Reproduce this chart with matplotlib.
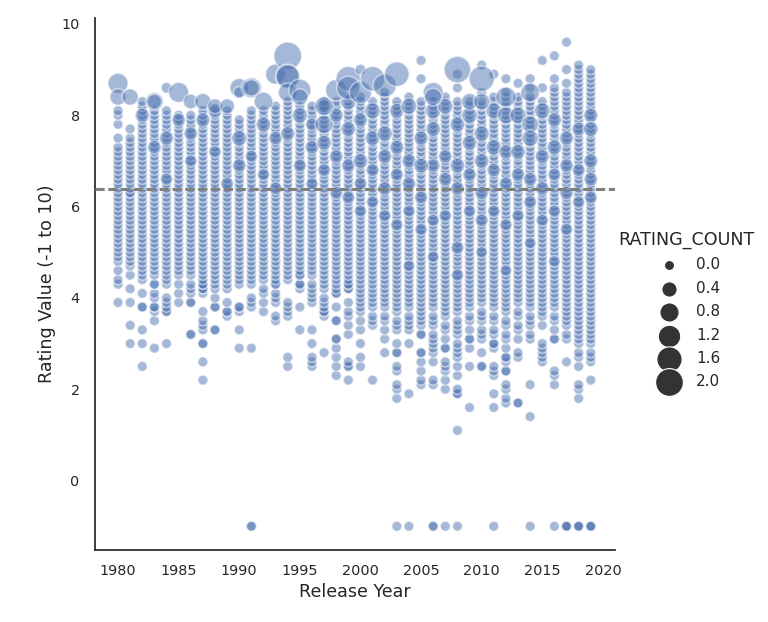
#!/usr/bin/env python3
"""Scatter of film ratings by release year, sized by rating count."""

import matplotlib
matplotlib.use("Agg")
import matplotlib.pyplot as plt

BLUE = "#4c72b0"
INK = "#262626"

release_years = list(range(1980, 2020))

# Ratings of ordinary titles, one row per release year
year_ratings = [
    [3.9, 4.3, 4.4, 4.6, 4.8, 4.9, 5.0, 5.1, 5.2, 5.3, 5.4, 5.5, 5.6, 5.7, 5.8, 5.9, 6.0, 6.1, 6.2, 6.3, 6.4, 6.5, 6.6, 6.7, 6.8, 6.9, 7.0, 7.1, 7.2, 7.3, 7.5, 7.8, 8.0, 8.1],
    [3.0, 3.4, 3.9, 4.2, 4.5, 4.7, 4.8, 4.9, 5.0, 5.1, 5.2, 5.3, 5.4, 5.5, 5.6, 5.7, 5.8, 5.9, 6.0, 6.1, 6.2, 6.3, 6.3, 6.4, 6.5, 6.6, 6.7, 6.8, 6.9, 7.0, 7.1, 7.2, 7.3, 7.4, 7.5, 7.7],
    [2.5, 3.0, 3.3, 3.8, 3.8, 4.1, 4.4, 4.5, 4.6, 4.7, 4.8, 4.9, 5.0, 5.1, 5.2, 5.3, 5.4, 5.5, 5.6, 5.7, 5.8, 5.9, 6.0, 6.1, 6.2, 6.3, 6.4, 6.5, 6.6, 6.7, 6.8, 6.9, 7.0, 7.1, 7.2, 7.3, 7.4, 7.5, 7.6, 7.7, 7.8, 7.9, 8.0, 8.1, 8.2, 8.3],
    [2.9, 3.5, 3.7, 3.8, 3.8, 4.0, 4.1, 4.3, 4.3, 4.5, 4.6, 4.7, 4.8, 4.9, 5.0, 5.1, 5.2, 5.3, 5.4, 5.5, 5.6, 5.7, 5.8, 5.9, 6.0, 6.1, 6.2, 6.3, 6.4, 6.5, 6.6, 6.7, 6.8, 6.9, 7.0, 7.1, 7.2, 7.3, 7.4, 7.5, 7.6, 7.7, 7.8, 7.9, 8.0, 8.1],
    [3.0, 3.7, 3.7, 3.8, 3.9, 4.0, 4.3, 4.4, 4.5, 4.6, 4.7, 4.8, 4.9, 5.0, 5.1, 5.2, 5.3, 5.4, 5.5, 5.6, 5.7, 5.8, 5.9, 6.0, 6.1, 6.2, 6.3, 6.4, 6.5, 6.6, 6.7, 6.8, 6.9, 7.0, 7.1, 7.2, 7.3, 7.4, 7.5, 7.6, 7.7, 7.8, 7.9, 8.0, 8.1],
    [3.9, 4.1, 4.3, 4.5, 4.6, 4.7, 4.8, 4.9, 5.0, 5.1, 5.2, 5.3, 5.4, 5.5, 5.6, 5.7, 5.8, 5.9, 6.0, 6.1, 6.2, 6.3, 6.4, 6.5, 6.6, 6.7, 6.8, 6.9, 7.0, 7.1, 7.2, 7.3, 7.4, 7.5, 7.6, 7.7, 7.8, 7.9, 8.0],
    [3.2, 3.2, 3.9, 3.9, 4.1, 4.2, 4.3, 4.5, 4.6, 4.7, 4.8, 4.9, 5.0, 5.1, 5.2, 5.3, 5.4, 5.5, 5.6, 5.7, 5.8, 5.9, 6.0, 6.1, 6.2, 6.3, 6.4, 6.5, 6.6, 6.7, 6.8, 6.9, 7.0, 7.1, 7.2, 7.3, 7.4, 7.5, 7.6, 7.7, 7.8, 7.9, 8.0],
    [2.2, 2.6, 3.0, 3.0, 3.3, 3.4, 3.5, 3.7, 4.1, 4.2, 4.2, 4.3, 4.3, 4.4, 4.5, 4.6, 4.7, 4.8, 4.9, 5.0, 5.1, 5.2, 5.3, 5.4, 5.5, 5.6, 5.7, 5.8, 5.9, 6.0, 6.1, 6.2, 6.3, 6.4, 6.5, 6.6, 6.7, 6.8, 6.9, 7.0, 7.1, 7.2, 7.3, 7.4, 7.5, 7.6, 7.7, 7.8, 7.9, 8.0, 8.1],
    [3.3, 3.3, 3.8, 3.8, 4.0, 4.2, 4.3, 4.4, 4.5, 4.6, 4.7, 4.8, 4.9, 5.0, 5.1, 5.2, 5.3, 5.4, 5.5, 5.6, 5.7, 5.8, 5.9, 6.0, 6.1, 6.2, 6.3, 6.4, 6.5, 6.6, 6.7, 6.8, 6.9, 7.0, 7.1, 7.2, 7.3, 7.4, 7.5, 7.6, 7.7, 7.8, 7.9, 8.0, 8.1],
    [3.6, 3.7, 3.7, 3.9, 4.2, 4.3, 4.4, 4.5, 4.6, 4.7, 4.8, 4.9, 5.0, 5.1, 5.2, 5.3, 5.4, 5.5, 5.6, 5.7, 5.8, 5.9, 6.0, 6.1, 6.2, 6.3, 6.4, 6.5, 6.6, 6.7, 6.8, 6.9, 7.0, 7.1, 7.2, 7.3, 7.4, 7.5, 7.6, 7.7, 7.8, 7.9, 8.0, 8.1],
    [2.9, 3.3, 3.7, 3.8, 3.8, 4.3, 4.4, 4.5, 4.6, 4.7, 4.8, 4.9, 5.0, 5.1, 5.2, 5.3, 5.4, 5.5, 5.6, 5.7, 5.8, 5.9, 6.0, 6.1, 6.2, 6.3, 6.4, 6.5, 6.6, 6.7, 6.8, 6.9, 7.0, 7.1, 7.2, 7.3, 7.4, 7.5, 7.6, 7.7, 7.8, 7.9],
    [2.9, 3.8, 3.9, 4.0, 4.3, 4.4, 4.5, 4.6, 4.7, 4.8, 4.9, 5.0, 5.1, 5.2, 5.3, 5.4, 5.5, 5.6, 5.7, 5.8, 5.9, 6.0, 6.1, 6.2, 6.3, 6.4, 6.5, 6.6, 6.7, 6.8, 6.9, 7.0, 7.1, 7.2, 7.3, 7.4, 7.5, 7.6, 7.7, 7.8, 7.9, 8.0, 8.1],
    [3.7, 3.9, 4.1, 4.2, 4.4, 4.5, 4.6, 4.7, 4.8, 4.9, 5.0, 5.1, 5.2, 5.3, 5.4, 5.5, 5.6, 5.7, 5.8, 5.9, 6.0, 6.1, 6.2, 6.3, 6.4, 6.5, 6.6, 6.7, 6.8, 6.9, 7.0, 7.1, 7.2, 7.3, 7.4, 7.5, 7.6, 7.7, 7.8, 7.9, 8.0, 8.1],
    [3.5, 3.6, 3.9, 4.0, 4.1, 4.3, 4.3, 4.4, 4.5, 4.6, 4.7, 4.8, 4.9, 5.0, 5.1, 5.2, 5.3, 5.4, 5.5, 5.6, 5.7, 5.8, 5.9, 6.0, 6.1, 6.2, 6.3, 6.4, 6.5, 6.6, 6.7, 6.8, 6.9, 7.0, 7.1, 7.2, 7.3, 7.4, 7.5, 7.6, 7.7, 7.8, 7.9, 8.0, 8.1, 8.2],
    [2.5, 2.7, 3.6, 3.7, 3.8, 3.9, 4.4, 4.5, 4.6, 4.7, 4.8, 4.9, 5.0, 5.1, 5.2, 5.3, 5.4, 5.5, 5.6, 5.7, 5.8, 5.9, 6.0, 6.1, 6.2, 6.3, 6.4, 6.5, 6.6, 6.7, 6.8, 6.9, 7.0, 7.1, 7.2, 7.3, 7.4, 7.5, 7.6, 7.7, 7.8, 7.9, 8.0, 8.1, 8.2, 8.3],
    [3.3, 3.8, 4.2, 4.3, 4.3, 4.5, 4.5, 4.6, 4.7, 4.8, 4.9, 5.0, 5.1, 5.2, 5.3, 5.4, 5.5, 5.6, 5.7, 5.8, 5.9, 6.0, 6.1, 6.2, 6.3, 6.4, 6.5, 6.6, 6.7, 6.8, 6.9, 7.0, 7.1, 7.2, 7.3, 7.4, 7.5, 7.6, 7.7, 7.8, 7.9, 8.0, 8.1, 8.2],
    [2.5, 2.6, 2.7, 3.0, 3.3, 3.9, 4.0, 4.1, 4.2, 4.3, 4.5, 4.6, 4.7, 4.8, 4.9, 5.0, 5.1, 5.2, 5.3, 5.4, 5.5, 5.6, 5.7, 5.8, 5.9, 6.0, 6.1, 6.2, 6.3, 6.4, 6.5, 6.6, 6.7, 6.8, 6.9, 7.0, 7.1, 7.2, 7.3, 7.4, 7.5, 7.6, 7.7, 7.8, 7.9, 8.0, 8.1, 8.2],
    [2.8, 3.6, 3.7, 3.7, 3.8, 3.9, 4.0, 4.2, 4.3, 4.4, 4.5, 4.6, 4.7, 4.8, 4.9, 5.0, 5.1, 5.2, 5.3, 5.4, 5.5, 5.6, 5.7, 5.8, 5.9, 6.0, 6.1, 6.2, 6.3, 6.4, 6.5, 6.6, 6.7, 6.8, 6.9, 7.0, 7.1, 7.2, 7.3, 7.4, 7.5, 7.6, 7.7, 7.8, 7.9, 8.0, 8.1, 8.2, 8.3],
    [2.3, 2.5, 2.7, 2.9, 3.1, 3.1, 3.5, 3.5, 3.8, 4.1, 4.1, 4.2, 4.3, 4.4, 4.5, 4.6, 4.7, 4.8, 4.9, 5.0, 5.1, 5.2, 5.3, 5.4, 5.5, 5.6, 5.7, 5.8, 5.9, 6.0, 6.1, 6.2, 6.3, 6.4, 6.5, 6.6, 6.7, 6.8, 6.9, 7.0, 7.1, 7.2, 7.3, 7.4, 7.5, 7.6, 7.7, 7.8, 7.9, 8.0, 8.1, 8.2, 8.3],
    [2.2, 2.5, 2.5, 2.6, 3.2, 3.4, 3.6, 3.7, 3.9, 4.2, 4.2, 4.3, 4.3, 4.4, 4.5, 4.6, 4.7, 4.8, 4.9, 5.0, 5.1, 5.2, 5.3, 5.4, 5.5, 5.6, 5.7, 5.8, 5.9, 6.0, 6.1, 6.2, 6.3, 6.4, 6.5, 6.6, 6.7, 6.8, 6.9, 7.0, 7.1, 7.2, 7.3, 7.4, 7.5, 7.6, 7.7, 7.8, 7.9, 8.0, 8.1, 8.2, 8.3, 8.4],
    [2.5, 2.7, 3.0, 3.3, 3.5, 3.7, 3.8, 3.9, 4.0, 4.1, 4.2, 4.3, 4.4, 4.5, 4.6, 4.7, 4.8, 4.9, 5.0, 5.1, 5.2, 5.3, 5.4, 5.5, 5.6, 5.7, 5.8, 5.9, 6.0, 6.1, 6.2, 6.3, 6.4, 6.5, 6.6, 6.7, 6.8, 6.9, 7.0, 7.1, 7.2, 7.3, 7.4, 7.5, 7.6, 7.7, 7.8, 7.9, 8.0, 8.1, 8.2, 8.3, 8.4],
    [2.2, 3.4, 3.5, 3.6, 3.8, 3.9, 4.0, 4.1, 4.2, 4.3, 4.4, 4.5, 4.6, 4.7, 4.8, 4.9, 5.0, 5.1, 5.2, 5.3, 5.4, 5.5, 5.6, 5.7, 5.8, 5.9, 6.0, 6.1, 6.2, 6.3, 6.4, 6.5, 6.6, 6.7, 6.8, 6.9, 7.0, 7.1, 7.2, 7.3, 7.4, 7.5, 7.6, 7.7, 7.8, 7.9, 8.0, 8.1, 8.2, 8.3],
    [2.8, 3.1, 3.3, 3.5, 3.6, 3.8, 3.9, 4.0, 4.1, 4.2, 4.3, 4.4, 4.5, 4.6, 4.7, 4.8, 4.9, 5.0, 5.1, 5.2, 5.3, 5.4, 5.5, 5.6, 5.7, 5.8, 5.9, 6.0, 6.1, 6.2, 6.3, 6.4, 6.5, 6.6, 6.7, 6.8, 6.9, 7.0, 7.1, 7.2, 7.3, 7.4, 7.5, 7.6, 7.7, 7.8, 7.9, 8.0, 8.1, 8.2, 8.3, 8.4, 8.5],
    [1.8, 2.0, 2.1, 2.4, 2.5, 2.8, 2.8, 3.0, 3.3, 3.4, 3.5, 3.7, 3.8, 3.9, 4.0, 4.1, 4.2, 4.3, 4.4, 4.5, 4.6, 4.7, 4.8, 4.9, 5.0, 5.1, 5.2, 5.3, 5.4, 5.5, 5.6, 5.7, 5.8, 5.9, 6.0, 6.1, 6.2, 6.3, 6.4, 6.5, 6.6, 6.7, 6.8, 6.9, 7.0, 7.1, 7.2, 7.3, 7.4, 7.5, 7.6, 7.7, 7.8, 7.9, 8.0, 8.1, 8.2, 8.3],
    [1.9, 3.0, 3.3, 3.4, 3.5, 3.6, 3.8, 3.9, 4.0, 4.1, 4.2, 4.3, 4.4, 4.5, 4.6, 4.7, 4.8, 4.9, 5.0, 5.1, 5.2, 5.3, 5.4, 5.5, 5.6, 5.7, 5.8, 5.9, 6.0, 6.1, 6.2, 6.3, 6.4, 6.5, 6.6, 6.7, 6.8, 6.9, 7.0, 7.1, 7.2, 7.3, 7.4, 7.5, 7.6, 7.7, 7.8, 7.9, 8.0, 8.1, 8.2, 8.3, 8.4],
    [2.1, 2.2, 2.4, 2.6, 2.8, 2.8, 3.2, 3.2, 3.4, 3.5, 3.6, 3.7, 3.8, 3.9, 4.0, 4.1, 4.2, 4.3, 4.4, 4.5, 4.6, 4.7, 4.8, 4.9, 5.0, 5.1, 5.2, 5.3, 5.4, 5.5, 5.6, 5.7, 5.8, 5.9, 6.0, 6.1, 6.2, 6.3, 6.4, 6.5, 6.6, 6.7, 6.8, 6.9, 7.0, 7.1, 7.2, 7.3, 7.4, 7.5, 7.6, 7.7, 7.8, 7.9, 8.0, 8.1, 8.2, 8.3, 8.8, 9.2],
    [2.1, 2.2, 2.6, 2.8, 2.9, 3.0, 3.1, 3.2, 3.4, 3.5, 3.6, 3.8, 3.9, 4.0, 4.1, 4.2, 4.3, 4.4, 4.5, 4.6, 4.7, 4.8, 4.9, 5.0, 5.1, 5.2, 5.3, 5.4, 5.5, 5.6, 5.7, 5.8, 5.9, 6.0, 6.1, 6.2, 6.3, 6.4, 6.5, 6.6, 6.7, 6.8, 6.9, 7.0, 7.1, 7.2, 7.3, 7.4, 7.5, 7.6, 7.7, 7.8, 7.9, 8.0, 8.1, 8.2, 8.3],
    [2.0, 2.2, 2.4, 2.5, 2.6, 2.9, 2.9, 3.1, 3.3, 3.4, 3.6, 3.7, 3.8, 3.9, 4.0, 4.1, 4.2, 4.3, 4.4, 4.5, 4.6, 4.7, 4.8, 4.9, 5.0, 5.1, 5.2, 5.3, 5.4, 5.5, 5.6, 5.7, 5.8, 5.9, 6.0, 6.1, 6.2, 6.3, 6.4, 6.5, 6.6, 6.7, 6.8, 6.9, 7.0, 7.1, 7.2, 7.3, 7.4, 7.5, 7.6, 7.7, 7.8, 7.9, 8.0, 8.1, 8.2, 8.3, 8.4],
    [1.1, 1.9, 1.9, 2.0, 2.3, 2.5, 2.7, 2.8, 2.9, 3.0, 3.2, 3.3, 3.4, 3.5, 3.7, 3.8, 3.9, 4.0, 4.1, 4.2, 4.3, 4.4, 4.5, 4.6, 4.7, 4.8, 4.9, 5.0, 5.1, 5.2, 5.3, 5.4, 5.5, 5.6, 5.7, 5.8, 5.9, 6.0, 6.1, 6.2, 6.3, 6.4, 6.5, 6.6, 6.7, 6.8, 6.9, 7.0, 7.1, 7.2, 7.3, 7.4, 7.5, 7.6, 7.7, 7.8, 7.9, 8.0, 8.1, 8.2, 8.3, 8.6, 8.9],
    [1.6, 2.5, 2.9, 3.1, 3.1, 3.3, 3.5, 3.6, 3.8, 3.9, 4.0, 4.1, 4.2, 4.3, 4.4, 4.5, 4.6, 4.7, 4.8, 4.9, 5.0, 5.1, 5.2, 5.3, 5.4, 5.5, 5.6, 5.7, 5.8, 5.9, 6.0, 6.1, 6.2, 6.3, 6.4, 6.5, 6.6, 6.7, 6.8, 6.9, 7.0, 7.1, 7.2, 7.3, 7.4, 7.5, 7.6, 7.7, 7.8, 7.9, 8.0, 8.1, 8.2, 8.3],
    [2.5, 2.5, 2.8, 3.1, 3.2, 3.3, 3.5, 3.6, 3.7, 3.9, 4.0, 4.1, 4.2, 4.3, 4.4, 4.5, 4.6, 4.7, 4.8, 4.9, 5.0, 5.1, 5.2, 5.3, 5.4, 5.5, 5.6, 5.7, 5.8, 5.9, 6.0, 6.1, 6.2, 6.3, 6.4, 6.5, 6.6, 6.7, 6.8, 6.9, 7.0, 7.1, 7.2, 7.3, 7.4, 7.5, 7.6, 7.7, 7.8, 7.9, 8.0, 8.1, 8.2, 8.3, 8.5, 9.1],
    [1.6, 1.9, 2.3, 2.4, 2.5, 2.9, 3.0, 3.0, 3.2, 3.3, 3.5, 3.6, 3.8, 3.9, 4.0, 4.1, 4.2, 4.3, 4.4, 4.5, 4.6, 4.7, 4.8, 4.9, 5.0, 5.1, 5.2, 5.3, 5.4, 5.5, 5.6, 5.7, 5.8, 5.9, 6.0, 6.1, 6.2, 6.3, 6.4, 6.5, 6.6, 6.7, 6.8, 6.9, 7.0, 7.1, 7.2, 7.3, 7.4, 7.5, 7.6, 7.7, 7.8, 7.9, 8.0, 8.1, 8.2, 8.3, 8.4, 8.9],
    [1.7, 1.8, 2.0, 2.1, 2.4, 2.4, 2.6, 2.7, 2.7, 2.9, 3.1, 3.2, 3.4, 3.5, 3.7, 3.8, 3.9, 4.0, 4.1, 4.2, 4.3, 4.4, 4.5, 4.6, 4.7, 4.8, 4.9, 5.0, 5.1, 5.2, 5.3, 5.4, 5.5, 5.6, 5.7, 5.8, 5.9, 6.0, 6.1, 6.2, 6.3, 6.4, 6.5, 6.6, 6.7, 6.8, 6.9, 7.0, 7.1, 7.2, 7.3, 7.4, 7.5, 7.6, 7.7, 7.8, 7.9, 8.0, 8.1, 8.2, 8.3, 8.4, 8.5, 8.8],
    [1.7, 1.7, 2.7, 2.8, 3.1, 3.3, 3.4, 3.6, 3.7, 3.9, 4.0, 4.1, 4.2, 4.3, 4.4, 4.5, 4.6, 4.7, 4.8, 4.9, 5.0, 5.1, 5.2, 5.3, 5.4, 5.5, 5.6, 5.7, 5.8, 5.9, 6.0, 6.1, 6.2, 6.3, 6.4, 6.5, 6.6, 6.7, 6.8, 6.9, 7.0, 7.1, 7.2, 7.3, 7.4, 7.5, 7.6, 7.7, 7.8, 7.9, 8.0, 8.1, 8.2, 8.3, 8.4, 8.7],
    [1.4, 2.1, 3.1, 3.2, 3.4, 3.5, 3.6, 3.8, 3.9, 4.0, 4.1, 4.2, 4.3, 4.4, 4.5, 4.6, 4.7, 4.8, 4.9, 5.0, 5.1, 5.2, 5.3, 5.4, 5.5, 5.6, 5.7, 5.8, 5.9, 6.0, 6.1, 6.2, 6.3, 6.4, 6.5, 6.6, 6.7, 6.8, 6.9, 7.0, 7.1, 7.2, 7.3, 7.4, 7.5, 7.6, 7.7, 7.8, 7.9, 8.0, 8.1, 8.2, 8.3, 8.4, 8.6, 8.8],
    [2.6, 2.7, 2.8, 2.9, 3.0, 3.4, 3.6, 3.7, 3.8, 3.9, 4.0, 4.1, 4.2, 4.3, 4.4, 4.5, 4.6, 4.7, 4.8, 4.9, 5.0, 5.1, 5.2, 5.3, 5.4, 5.5, 5.6, 5.7, 5.8, 5.9, 6.0, 6.1, 6.2, 6.3, 6.4, 6.5, 6.6, 6.7, 6.8, 6.9, 7.0, 7.1, 7.2, 7.3, 7.4, 7.5, 7.6, 7.7, 7.8, 7.9, 8.0, 8.1, 8.2, 8.3, 8.6, 9.2],
    [2.1, 2.3, 2.4, 3.1, 3.1, 3.3, 3.5, 3.6, 3.8, 3.9, 4.0, 4.1, 4.2, 4.3, 4.4, 4.5, 4.6, 4.7, 4.8, 4.9, 5.0, 5.1, 5.2, 5.3, 5.4, 5.5, 5.6, 5.7, 5.8, 5.9, 6.0, 6.1, 6.2, 6.3, 6.4, 6.5, 6.6, 6.7, 6.8, 6.9, 7.0, 7.1, 7.2, 7.3, 7.4, 7.5, 7.6, 7.7, 7.8, 7.9, 8.0, 8.1, 8.2, 8.3, 8.4, 8.5, 8.6, 8.8, 9.3],
    [2.6, 3.1, 3.2, 3.4, 3.5, 3.6, 3.7, 3.8, 3.9, 4.0, 4.1, 4.2, 4.3, 4.4, 4.5, 4.6, 4.7, 4.8, 4.9, 5.0, 5.1, 5.2, 5.3, 5.4, 5.5, 5.6, 5.7, 5.8, 5.9, 6.0, 6.1, 6.2, 6.3, 6.4, 6.5, 6.6, 6.7, 6.8, 6.9, 7.0, 7.1, 7.2, 7.3, 7.4, 7.5, 7.6, 7.7, 7.8, 7.9, 8.0, 8.1, 8.2, 8.3, 8.4, 8.5, 8.7, 9.0, 9.6],
    [1.8, 2.0, 2.1, 2.5, 2.7, 2.8, 3.0, 3.1, 3.2, 3.3, 3.4, 3.5, 3.6, 3.7, 3.8, 3.9, 4.0, 4.1, 4.2, 4.3, 4.4, 4.5, 4.6, 4.7, 4.8, 4.9, 5.0, 5.1, 5.2, 5.3, 5.4, 5.5, 5.6, 5.7, 5.8, 5.9, 6.0, 6.1, 6.2, 6.3, 6.4, 6.5, 6.6, 6.7, 6.8, 6.9, 7.0, 7.1, 7.2, 7.3, 7.4, 7.5, 7.6, 7.7, 7.8, 7.9, 8.0, 8.1, 8.2, 8.3, 8.4, 8.5, 8.6, 8.7, 8.8, 8.9, 9.0, 9.1],
    [2.2, 2.6, 2.7, 2.8, 3.0, 3.1, 3.2, 3.3, 3.4, 3.5, 3.6, 3.7, 3.8, 3.9, 4.0, 4.1, 4.2, 4.3, 4.4, 4.5, 4.6, 4.7, 4.8, 4.9, 5.0, 5.1, 5.2, 5.3, 5.4, 5.5, 5.6, 5.7, 5.8, 5.9, 6.0, 6.1, 6.2, 6.3, 6.4, 6.5, 6.6, 6.7, 6.8, 6.9, 7.0, 7.1, 7.2, 7.3, 7.4, 7.5, 7.6, 7.7, 7.8, 7.9, 8.0, 8.1, 8.2, 8.3, 8.4, 8.5, 8.6, 8.7, 8.8, 8.9, 9.0],
]

# Titles with a slightly raised rating count, in millions
ring_years = [1984, 1986, 1988, 1989, 1991, 1992, 1993, 1995, 1996, 1996, 1997, 1998, 1999, 2000, 2000, 2001, 2001, 2002, 2002, 2003, 2003, 2004, 2004, 2005, 2005, 2006, 2006, 2007, 2007, 2008, 2008, 2009, 2009, 2010, 2010, 2011, 2011, 2012, 2012, 2013, 2013, 2014, 2014, 2015, 2015, 2016, 2016, 2017, 2017, 2018, 2018, 2019, 2019, 2004, 2006, 2008, 2010, 2012, 2014, 2016]
ring_ratings = [6.6, 7.0, 7.2, 6.5, 7.1, 6.7, 6.4, 6.9, 7.8, 6.5, 6.8, 6.3, 6.2, 6.5, 5.9, 6.8, 6.1, 6.4, 5.8, 6.7, 5.6, 6.5, 5.9, 6.2, 5.5, 6.9, 5.7, 6.6, 5.8, 6.4, 5.1, 6.7, 5.9, 6.3, 5.7, 6.8, 5.9, 6.5, 5.6, 6.7, 5.8, 6.6, 6.1, 6.4, 5.7, 6.7, 5.9, 6.3, 5.5, 6.8, 6.1, 8.0, 6.2, 4.7, 4.9, 4.5, 5.0, 4.6, 5.2, 4.8]
ring_counts = [0.15, 0.15, 0.15, 0.2, 0.15, 0.15, 0.2, 0.2, 0.2, 0.15, 0.2, 0.2, 0.2, 0.2, 0.15, 0.2, 0.15, 0.25, 0.15, 0.2, 0.15, 0.25, 0.15, 0.2, 0.15, 0.25, 0.15, 0.25, 0.15, 0.25, 0.2, 0.25, 0.15, 0.25, 0.2, 0.25, 0.15, 0.25, 0.15, 0.25, 0.15, 0.25, 0.2, 0.25, 0.15, 0.2, 0.15, 0.25, 0.15, 0.2, 0.15, 0.3, 0.2, 0.1, 0.1, 0.15, 0.1, 0.1, 0.1, 0.1]

# Titles with a moderately large rating count
mid_years = [1982, 1983, 1984, 1985, 1986, 1987, 1988, 1990, 1990, 1992, 1993, 1994, 1995, 1996, 1997, 1997, 1997, 1998, 1998, 1999, 1999, 1999, 2000, 2000, 2001, 2001, 2002, 2002, 2003, 2003, 2004, 2004, 2005, 2005, 2006, 2006, 2007, 2007, 2008, 2008, 2009, 2009, 2010, 2010, 2011, 2011, 2012, 2012, 2013, 2013, 2014, 2014, 2015, 2015, 2016, 2016, 2017, 2017, 2018, 2019, 2019, 2019]
mid_ratings = [8.0, 7.3, 7.5, 7.9, 7.6, 7.9, 8.1, 7.5, 6.9, 7.8, 7.5, 7.6, 8.0, 7.3, 7.8, 7.4, 8.2, 8.0, 7.1, 8.3, 7.7, 6.9, 7.9, 7.0, 8.1, 7.5, 7.6, 7.1, 8.1, 7.3, 8.2, 7.0, 7.5, 6.9, 8.1, 7.7, 8.2, 7.1, 7.8, 6.9, 8.0, 7.4, 7.6, 7.0, 8.1, 7.3, 8.0, 7.2, 8.0, 7.2, 7.8, 7.5, 8.1, 7.1, 7.9, 7.3, 7.5, 6.9, 7.7, 7.7, 7.0, 6.6]
mid_counts = [0.3, 0.25, 0.3, 0.25, 0.25, 0.3, 0.3, 0.4, 0.25, 0.35, 0.25, 0.3, 0.4, 0.25, 0.7, 0.35, 0.25, 0.3, 0.25, 0.45, 0.35, 0.25, 0.3, 0.35, 0.45, 0.35, 0.4, 0.3, 0.35, 0.3, 0.45, 0.3, 0.3, 0.35, 0.45, 0.35, 0.4, 0.25, 0.35, 0.35, 0.45, 0.35, 0.4, 0.35, 0.45, 0.4, 0.55, 0.3, 0.5, 0.35, 0.55, 0.5, 0.45, 0.3, 0.3, 0.35, 0.3, 0.25, 0.25, 0.35, 0.3, 0.25]

# The most rated titles
top_years = [1980, 1980, 1981, 1983, 1983, 1984, 1985, 1986, 1987, 1988, 1989, 1990, 1990, 1991, 1991, 1992, 1993, 1994, 1994, 1994, 1994, 1995, 1995, 1997, 1998, 1999, 1999, 2000, 2000, 2001, 2002, 2003, 2006, 2006, 2008, 2009, 2010, 2010, 2012, 2014]
top_ratings = [8.7, 8.4, 8.4, 8.3, 8.3, 8.6, 8.5, 8.3, 8.3, 8.2, 8.2, 8.6, 8.5, 8.6, 8.6, 8.3, 8.9, 9.3, 8.85, 8.85, 8.5, 8.55, 8.4, 8.2, 8.55, 8.8, 8.6, 9.0, 8.5, 8.8, 8.65, 8.9, 8.5, 8.4, 9.0, 8.3, 8.8, 8.3, 8.4, 8.5]
top_counts = [0.9, 0.5, 0.5, 0.65, 0.35, 0.05, 0.9, 0.35, 0.5, 0.35, 0.35, 0.75, 0.1, 0.9, 0.5, 0.75, 0.9, 2.0, 1.5, 1.3, 0.75, 1.15, 0.5, 0.75, 1.05, 1.5, 1.3, 0.05, 1.15, 1.5, 1.3, 1.5, 0.9, 0.6, 1.8, 0.5, 1.6, 0.5, 0.9, 0.75]

# Titles without a rating are stored as -1
unrated_years = [1991, 1991, 2003, 2004, 2006, 2006, 2007, 2008, 2011, 2014, 2016, 2017, 2017, 2017, 2018, 2018, 2018, 2019, 2019, 2019]
unrated_values = [-1.0] * len(unrated_years)

mean_rating = 6.38

legend_counts = [0.0, 0.4, 0.8, 1.2, 1.6, 2.0]
x_ticks = [1980, 1985, 1990, 1995, 2000, 2005, 2010, 2015, 2020]
y_ticks = [0, 2, 4, 6, 8, 10]


def marker_area(count):
    """Marker area in points^2 for a rating count."""
    return 52 + 174 * count


# Flatten the per-year rows into scatter columns
xs, ys, sizes = [], [], []
for year, ratings in zip(release_years, year_ratings):
    for rating in ratings:
        xs.append(year)
        ys.append(rating)
        sizes.append(marker_area(0.0))

for year, value in zip(unrated_years, unrated_values):
    xs.append(year)
    ys.append(value)
    sizes.append(marker_area(0.0))

for group_years, group_ratings, group_counts in (
    (ring_years, ring_ratings, ring_counts),
    (mid_years, mid_ratings, mid_counts),
    (top_years, top_ratings, top_counts),
):
    for year, rating, count in zip(group_years, group_ratings, group_counts):
        xs.append(year)
        ys.append(rating)
        sizes.append(marker_area(count))

fig = plt.figure(figsize=(7.68, 6.22), dpi=100)
ax = fig.add_axes([95 / 768, 1 - 550 / 622, 520 / 768, 532 / 622])

ax.scatter(xs, ys, s=sizes, color=BLUE, alpha=0.5, edgecolors="white", linewidths=1.1, zorder=2)
ax.axhline(mean_rating, color="gray", lw=2.2, dashes=(3, 1.2), zorder=3)

ax.set_xlim(1978.1, 2021.0)
ax.set_ylim(-1.52, 10.13)
ax.set_xticks(x_ticks)
ax.set_yticks(y_ticks)
ax.tick_params(axis="x", length=0, labelsize=10.4, labelcolor=INK, pad=10)
ax.tick_params(axis="y", length=0, labelsize=10.4, labelcolor=INK, pad=11)
ax.set_xlabel("Release Year", fontsize=12.6, color=INK, labelpad=4)
ax.set_ylabel("Rating Value (-1 to 10)", fontsize=12.6, color=INK, labelpad=4)

for side in ("top", "right"):
    ax.spines[side].set_visible(False)
for side in ("left", "bottom"):
    ax.spines[side].set_color(INK)
    ax.spines[side].set_linewidth(1.25)

handles = [
    ax.scatter([], [], s=marker_area(count), color="#333333", edgecolors="white", linewidths=0.8)
    for count in legend_counts
]
legend = fig.legend(
    handles,
    [f"{count:.1f}" for count in legend_counts],
    title="RATING_COUNT",
    title_fontsize=12.6,
    fontsize=11,
    frameon=False,
    labelspacing=0.55,
    loc="center left",
    bbox_to_anchor=(605 / 768, 1 - 310 / 622),
    labelcolor=INK,
)
legend.get_title().set_color(INK)

fig.savefig("out.png", dpi=100)
